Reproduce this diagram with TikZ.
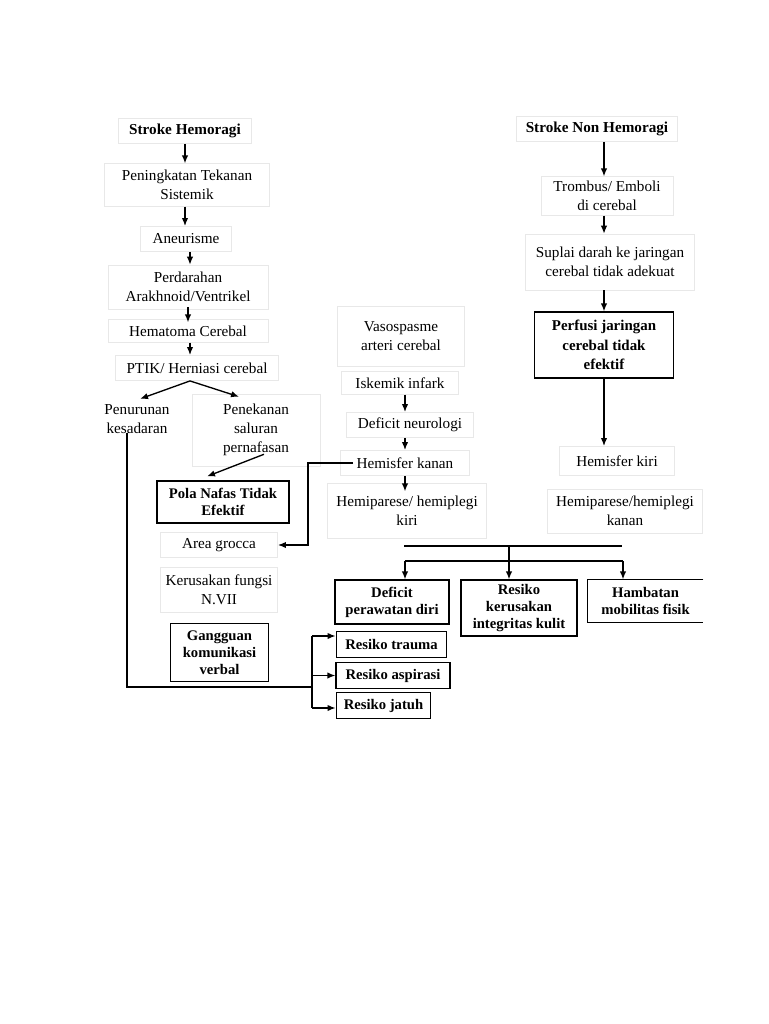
\documentclass[tikz,border=0pt]{standalone}
\usepackage{fontspec}
\setmainfont{Liberation Serif}
\usetikzlibrary{positioning,calc,arrows.meta}

\begin{document}
\begin{tikzpicture}[x=0.75pt, y=-0.75pt,
  txt/.style={align=center, font=\fontsize{11.4}{14.2}\selectfont, draw=black!9, inner sep=1pt},
  hd/.style={txt, font=\fontsize{11.4}{14.2}\selectfont\bfseries},
  bbox/.style={align=center, font=\fontsize{11}{12.8}\selectfont\bfseries, draw, line width=0.9pt, inner sep=1pt},
  arr/.style={-{Latex[length=6pt,width=4.8pt]}, line width=1pt}]
	\fill[white] (0,0) rectangle (768,1024);
	\useasboundingbox (0,0) rectangle (768,1024);
	% kiri
	\node[hd, minimum width=100pt, minimum height=19pt] (sh) at (185,131) {Stroke Hemoragi};
	\node[txt, minimum width=124pt, minimum height=32pt] (ptk) at (187,185) {Peningkatan Tekanan\\Sistemik};
	\node[txt, minimum width=68pt, minimum height=19pt] (anr) at (186,239) {Aneurisme};
	\node[txt, minimum width=120pt, minimum height=33pt] (pdr) at (188,287) {Perdarahan\\Arakhnoid/Ventrikel};
	\node[txt, minimum width=120pt, minimum height=17pt] (hmt) at (188,331) {Hematoma Cerebal};
	\node[txt, minimum width=122pt, minimum height=19pt] (ptik) at (197,368) {PTIK/ Herniasi cerebal};
	\node[txt, draw=none] (pnr) at (137,419) {Penurunan\\kesadaran};
	\node[txt, minimum width=96pt, minimum height=54pt] (pnk) at (256,430) {Penekanan\\saluran\\pernafasan};
	\node[bbox, minimum width=99pt, minimum height=31.5pt] (pola) at (223,502) {Pola Nafas Tidak\\Efektif};
	\node[txt, minimum width=88pt, minimum height=19pt] (area) at (219,545) {Area grocca};
	\node[txt, minimum width=88pt, minimum height=34pt] (krs) at (219,590) {Kerusakan fungsi\\N.VII};
	\node[bbox, minimum width=73pt, minimum height=43pt] (ggn) at (219.5,652.5) {Gangguan\\komunikasi\\verbal};
	% tengah
	\node[txt, minimum width=95pt, minimum height=45pt] (vaso) at (401,336) {Vasospasme\\arteri cerebal};
	\node[txt, minimum width=88pt, minimum height=17pt] (isk) at (400,383) {Iskemik infark};
	\node[txt, minimum width=95pt, minimum height=19pt] (dfn) at (410,425) {Deficit neurologi};
	\node[txt, minimum width=97pt, minimum height=19pt] (hka) at (405,463) {Hemisfer kanan};
	\node[txt, minimum width=119pt, minimum height=41pt] (hpk) at (407,511) {Hemiparese/ hemiplegi\\kiri};
	% kanan
	\node[hd, minimum width=121pt, minimum height=19pt] (snh) at (597,129) {Stroke Non Hemoragi};
	\node[txt, minimum width=99pt, minimum height=29pt] (trb) at (607,196) {Trombus/ Emboli\\di cerebal};
	\node[txt, minimum width=127pt, minimum height=42pt] (spl) at (610,262) {Suplai darah ke jaringan\\cerebal tidak adekuat};
	\node[bbox, font=\fontsize{11.2}{14.4}\selectfont\bfseries, minimum width=104pt, minimum height=49.5pt] (pfs) at (604,345) {Perfusi jaringan\\cerebal tidak\\efektif};
	\node[txt, minimum width=86pt, minimum height=22pt] (hki) at (617,461) {Hemisfer kiri};
	\node[txt, minimum width=116pt, minimum height=33pt] (hpn) at (625,511) {Hemiparese/hemiplegi\\kanan};
	% bawah
	\node[bbox, minimum width=85.5pt, minimum height=33pt] (dpd) at (392,602) {Deficit\\perawatan diri};
	\node[bbox, minimum width=87pt, minimum height=42pt] (rkk) at (519,608) {Resiko\\kerusakan\\integritas kulit};
	\node[bbox, draw=none, minimum width=86pt, minimum height=31.5pt] (hmb) at (645.5,601) {Hambatan\\mobilitas fisik};
	\node[bbox, minimum width=83pt, minimum height=20pt] (rtr) at (391.5,644.5) {Resiko trauma};
	\node[bbox, minimum width=85.5pt, minimum height=19pt] (ras) at (393,675.5) {Resiko aspirasi};
	\node[bbox, minimum width=71pt, minimum height=19pt] (rjt) at (383.5,705.5) {Resiko jatuh};
	\draw[line width=0.9pt] (hmb.north east) -- (hmb.north west) -- (hmb.south west) -- (hmb.south east);
	% titik cabang
	\coordinate (jn) at (312,687);
	\coordinate (b1) at (312,636);
	\coordinate (b3) at (312,708);
	\coordinate (t0) at (404,546);
	\coordinate (t1) at (622,546);
	\coordinate (tm) at (509,546);
	\coordinate (u0) at (405,561);
	\coordinate (u1) at (623,561);
	% panah kiri
	\draw[arr] (sh) -- (sh |- ptk.north);
	\draw[arr] (sh |- ptk.south) -- (sh |- anr.north);
	\draw[arr] ($(anr.south)+(4,0)$) -- ($(anr.south |- pdr.north)+(4,0)$);
	\draw[arr] ($(pdr.south)+(0,-2)$) -- ($(pdr |- hmt.north)+(0,3)$);
	\draw[arr] ($(hmt.south)+(2,0)$) -- ($(hmt.south |- ptik.north)+(2,0)$);
	\draw[arr] ($(ptik.south)+(-7,0)$) -- ($(pnr.north)+(3,-4)$);
	\draw[arr] ($(ptik.south)+(-7,0)$) -- ($(pnk.north)+(-17,3)$);
	\draw[arr] ($(pnk.south)+(8,-12)$) -- ($(pola.north)+(-16,-4)$);
	\draw[line width=1pt] ($(pnr.south)+(-10,-2)$) |- (jn);
	\draw[line width=1pt] (b1) -- (b3);
	\draw[arr] (b1) -- (b1 -| rtr.west);
	\draw[arr] (jn |- ras) -- (ras.west);
	\draw[arr] (b3) -- (b3 -| rjt.west);
	% panah tengah
	\draw[arr] (hka |- isk.south) -- (hka |- dfn.north);
	\draw[arr] (hka |- dfn.south) -- (hka.north);
	\draw[arr] (hka) -- ($(hka |- hpk.north)+(0,8)$);
	\draw[arr] ($(hka.west)+(13,0)$) -- ++(-45,0) |- (area.east);
	% panah kanan
	\draw[arr] (pfs |- snh.south) -- (pfs |- trb.north);
	\draw[arr] (pfs |- trb.south) -- (pfs |- spl.north);
	\draw[arr] (pfs |- spl.south) -- (pfs.north);
	\draw[arr] (pfs) -- (pfs |- hki.north);
	% panah bawah
	\draw[line width=1pt] (t0) -- (t1);
	\draw[arr] (tm) -- (tm |- rkk.north);
	\draw[line width=1pt] (u0) -- (u1);
	\draw[arr] (u0) -- (u0 |- dpd.north);
	\draw[arr] (u1) -- (u1 |- hmb.north);
\end{tikzpicture}
\end{document}
